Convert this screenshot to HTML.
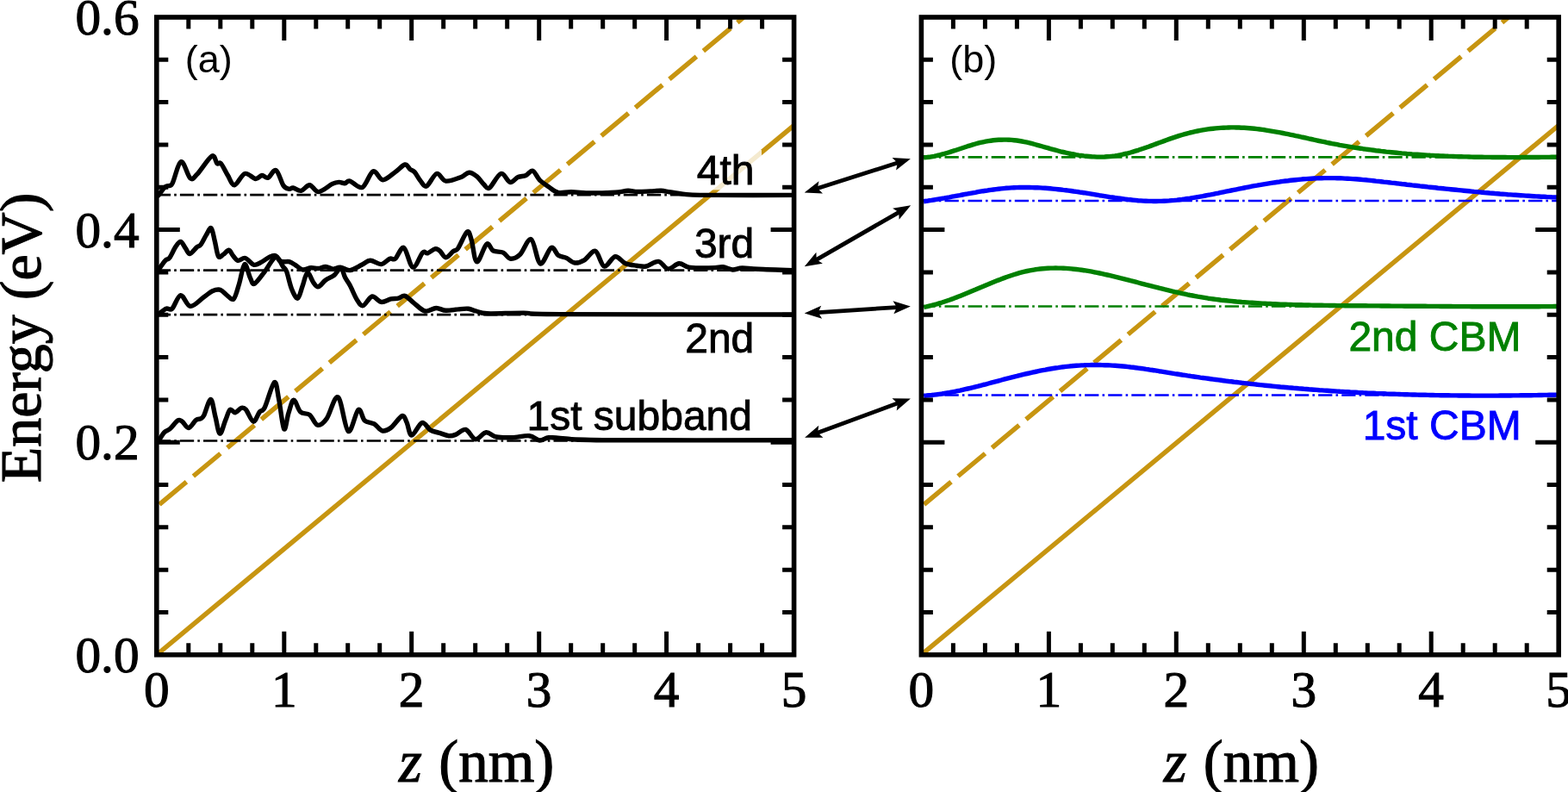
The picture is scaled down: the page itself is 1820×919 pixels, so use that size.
<!DOCTYPE html><html><head><meta charset="utf-8"><title>Energy vs z</title><style>html,body{margin:0;padding:0;background:#fff;}svg{display:block;}.serif{font-family:"Liberation Serif","Times New Roman",serif;stroke:#000;stroke-width:1.1px;}.sans{font-family:"Liberation Sans",Arial,sans-serif;stroke:#000;stroke-width:0.9px;}</style></head><body>
<svg width="1820" height="919" viewBox="0 0 1820 919">
<rect width="100%" height="100%" fill="#fff"/>
<defs>
<clipPath id="ca"><rect x="181.8" y="20" width="739.8" height="739.8"/></clipPath>
<clipPath id="cb"><rect x="1069.4" y="20" width="739.8" height="739.8"/></clipPath>
</defs>
<g clip-path="url(#ca)">
<line x1="181.8" y1="759.8" x2="931.6" y2="137.1" stroke="#C79511" stroke-width="5.5"/>
<line x1="181.8" y1="588" x2="887.2" y2="0" stroke="#C79511" stroke-width="5.5" stroke-dasharray="41 10.38" stroke-dashoffset="47.3"/>
</g>
<rect x="800" y="174" width="84" height="46.4" fill="#fff" fill-opacity="0.8"/>
<line x1="181.8" y1="226.2" x2="921.6" y2="226.2" stroke="#000" stroke-width="2.7" stroke-dasharray="16.3 4.1 2.6 4.1"/>
<line x1="181.8" y1="313.7" x2="921.6" y2="313.7" stroke="#000" stroke-width="2.7" stroke-dasharray="16.3 4.1 2.6 4.1"/>
<line x1="181.8" y1="365.2" x2="921.6" y2="365.2" stroke="#000" stroke-width="2.7" stroke-dasharray="16.3 4.1 2.6 4.1"/>
<line x1="181.8" y1="511.5" x2="921.6" y2="511.5" stroke="#000" stroke-width="2.7" stroke-dasharray="16.3 4.1 2.6 4.1"/>
<g fill="none" stroke="#000" stroke-width="5.4" stroke-linejoin="round" stroke-linecap="round" clip-path="url(#ca)">
<path d="M184,226.6C185.3,224.9 189.7,218.6 191.9,216.7C194.1,214.8 195.7,216.2 197.1,215.4C198.5,214.6 198.2,216.7 200.4,212.1C202.6,207.5 206.9,188.6 210.3,187.7C213.7,186.8 217.8,204.4 220.9,206.8C224,209.2 224.6,206.5 228.8,202.2C233,197.9 242.1,183.2 245.9,181.1C249.8,179 250.1,188.3 251.9,189.7C253.7,191.1 254.4,187.4 256.5,189.7C258.6,192 261.8,199.3 264.4,203.5C267,207.7 269,215 272.3,214.7C275.6,214.4 280.1,202.7 284.2,201.5C288.3,200.3 293.4,207.2 296.7,207.5C300,207.8 301.6,203.7 304,203.5C306.4,203.3 308.5,207.2 311.2,206.2C313.9,205.2 317.4,196.1 320.4,197.6C323.4,199.1 326.5,211.8 329,215.4C331.5,219 333.7,218.9 335.6,219.3C337.5,219.7 337.9,217.7 340.2,218C342.5,218.3 346.3,221.9 349.5,221.3C352.7,220.8 356,214.5 359.4,214.7C362.8,214.9 365.5,222.8 369.9,222.6C374.3,222.4 381.8,215.3 385.7,213.4C389.6,211.5 391.2,211.5 393.6,211.4C396,211.3 398.1,212.9 400.2,212.7C402.3,212.5 402.8,209.3 406.2,210.1C409.6,210.9 416,219.3 420.5,217.4C425,215.5 429.1,200.3 433.1,198.9C437.1,197.5 440,208.7 444.3,208.8C448.6,208.9 454.5,202.6 458.8,199.6C463.1,196.6 467.1,191.6 470,191C472.9,190.4 474,194.9 475.9,196.3C477.8,197.7 479.2,197.4 481.2,199.6C483.2,201.8 485.5,206.8 487.8,209.5C490.1,212.2 491.9,217.3 495.1,216C498.3,214.7 503.2,202.5 506.9,201.5C510.6,200.5 512.8,209.4 517.5,210.1C522.2,210.8 530.8,207.2 535.3,205.5C539.8,203.8 541.4,200.3 544.5,200.2C547.6,200.1 550.8,202.5 553.7,204.8C556.6,207.1 559.3,211.9 561.7,214.1C564.1,216.3 564.9,220.1 568.2,218C571.5,215.9 577.4,202.6 581.4,201.5C585.4,200.4 588.7,210.7 592,211.4C595.3,212.1 598.1,206.8 601.2,205.5C604.3,204.2 607.6,204.7 610.5,203.5C613.4,202.3 615.8,197.3 618.4,198.2C621,199.1 623.2,205.7 626.3,208.8C629.4,211.9 633.2,214.3 636.8,216.7C640.3,219.1 643.2,222.4 647.6,223.4C652,224.4 656.8,222.7 663,222.8C669.2,222.9 678,223.9 685,224C692,224.1 699.5,223.8 705,223.6C710.5,223.4 714,223.4 718,223C722,222.6 725.3,221.4 729,221.3C732.7,221.2 735.7,222.4 740,222.5C744.3,222.6 750.4,222.1 755,221.9C759.6,221.7 763.5,221.1 767.4,221.3C771.3,221.5 772.9,222.2 778.4,223C783.9,223.8 791.7,225.3 800.3,225.9C808.9,226.5 809.8,226.3 830,226.4C850.2,226.5 906.3,226.4 921.6,226.4"/>
<path d="M184.2,312.9C184.9,311.8 187.1,308.5 188.5,306.6C189.9,304.7 191.3,302.9 192.7,301.6C194.1,300.3 195.1,301.4 197,298.8C198.9,296.2 201.9,289.2 204,286.1C206.1,283 207.8,280 209.7,280.4C211.6,280.8 213.6,285.8 215.4,288.2C217.2,290.6 218.2,294.7 220.3,294.5C222.4,294.3 226,288.9 228.1,287.1C230.2,285.3 231.1,286.3 233,283.9C234.9,281.5 237.4,275.8 239.4,272.6C241.4,269.4 243.4,263.6 245.1,264.8C246.8,266 247.9,274.3 249.3,279.7C250.7,285.1 251.8,294.8 253.5,297.4C255.2,300 257.2,296.5 259.2,295.3C261.2,294.1 263.7,290.1 265.6,290.3C267.5,290.5 268.7,294.7 270.5,296.7C272.3,298.7 273.8,301.8 276.2,302.3C278.6,302.8 281.6,298.7 284.7,299.5C287.8,300.3 291.6,306.5 294.6,307.3C297.7,308.1 299.9,305.9 303,304.4C306.1,302.9 310.1,299.4 312.9,298.1C315.7,296.8 318.1,296 320,296.7C321.9,297.4 322.7,301.1 324.3,302.3C325.9,303.5 328,303.5 329.9,303.7C331.8,303.9 333.5,303.1 335.6,303.7C337.7,304.3 340,305.8 342.6,307.3C345.2,308.8 348,312.3 351.1,312.9C354.2,313.5 357.9,311 361,310.8C364.1,310.6 366.7,311.7 369.5,311.5C372.3,311.3 375.2,309.3 378,309.4C380.8,309.5 383.7,312.1 386.5,312.2C389.3,312.3 391.7,309.9 395,310.1C398.3,310.3 402.2,314.1 406.3,313.6C410.4,313.1 416,309.2 419.9,307.3C423.8,305.4 426,302.4 429.8,302.3C433.6,302.2 438.7,307 442.5,306.6C446.3,306.2 449.7,301.3 452.4,300.2C455.1,299.1 456.1,302.3 458.8,300.2C461.5,298.1 465.3,285.9 468.7,287.5C472.1,289.1 475.6,309.2 479.3,310.1C483,311 487.8,295.8 490.6,293.1C493.4,290.4 493.9,294.5 496.3,293.8C498.7,293.1 502.5,289.4 504.8,288.9C507.1,288.4 508.3,289.4 510.4,291C512.5,292.6 514.9,298.7 517.5,298.8C520.1,298.9 523.6,293.5 526,291.7C528.4,289.9 528.9,292 531.6,288.2C534.3,284.4 539.6,270.8 542.2,269.1C544.8,267.5 545.3,272.5 547.2,278.3C549.1,284.1 550.5,302.9 553.5,303.7C556.5,304.5 561.7,285.3 564.9,283.2C568.1,281.1 569.4,289.4 572.6,291C575.8,292.6 580.7,291.6 584,293.1C587.3,294.6 589.1,299.8 592.4,300.2C595.7,300.6 599.7,299.1 603.7,295.3C607.7,291.5 612.6,275.8 616.5,277.6C620.4,279.4 623.2,304.2 627.1,305.9C631,307.5 636.3,289.1 639.8,287.5C643.3,285.9 645,294.2 648,296.2C651,298.2 654.3,297.9 657.5,299.4C660.7,300.9 663.6,304.6 667.1,305C670.6,305.4 674.2,304.1 678.2,301.8C682.2,299.5 687.1,290.2 691,291.4C694.9,292.6 697.4,307.9 701.3,309C705.1,310.1 710,298.3 714.1,297.8C718.2,297.3 721.9,304.1 726,305.8C730.1,307.5 734.8,307.7 738.8,308.2C742.8,308.7 745.6,309.8 749.9,309C754.1,308.2 760,302.9 764.3,303.4C768.5,303.9 771.4,311.7 775.4,312.1C779.4,312.5 784.2,306.1 788.2,305.8C792.2,305.5 794.8,309.3 799.3,310.2C803.8,311.1 809.9,310.9 815,311C820.1,311.1 826,310.8 830,310.6C834,310.4 835.8,309.4 839.2,309.8C842.6,310.2 846.6,312.8 850.3,313C854,313.2 856.5,311.1 861.5,311C866.5,310.9 870,311.9 880,312.3C890,312.8 914.7,313.5 921.6,313.7"/>
<path d="M184.2,364.6C185.6,363.5 190.1,359.3 192.7,358.2C195.3,357.1 197,360.8 199.8,358.2C202.6,355.6 206.2,343.1 209.7,342.6C213.2,342.1 216.5,355 221,355.4C225.5,355.8 232.3,347.8 236.6,344.8C240.8,341.9 243.3,339.1 246.5,337.7C249.7,336.3 252.9,335.5 255.7,336.3C258.5,337.1 260.8,340.8 263.4,342.6C266,344.4 268.8,349.1 271.2,346.9C273.6,344.7 275.5,335.9 277.6,329.2C279.7,322.5 281.8,307.8 283.9,306.6C286,305.4 288.4,318.3 290.3,322.1C292.2,325.9 292.5,330.4 295.3,329.2C298.1,328 303.2,320.3 307.3,315.1C311.4,309.9 316.5,299.1 320,298.1C323.5,297.2 326.4,306.6 328.5,309.4C330.6,312.2 331.1,310.9 332.7,315.1C334.3,319.4 336.3,329.7 338.4,334.9C340.5,340.1 343.4,346.7 345.5,346.2C347.6,345.7 349.2,336.9 351.1,332C353,327.1 354.7,317.2 356.8,316.5C358.9,315.8 361.7,325.1 363.8,327.8C365.9,330.5 367.1,333.2 369.5,332.7C371.9,332.2 374.9,327.2 378,325C381.1,322.8 384.9,321.7 387.9,319.3C390.8,316.9 393.6,310.3 395.7,310.8C397.8,311.3 398.8,318.7 400.6,322.1C402.4,325.5 404,327.1 406.3,331.3C408.6,335.6 411.7,343.7 414.2,347.6C416.7,351.5 418.4,355.3 421.3,354.7C424.2,354.1 428.4,344.7 431.9,344C435.4,343.3 438.9,349.9 442.5,350.4C446.1,350.9 450.5,347.6 453.8,346.9C457.1,346.2 459.6,346.8 462.3,346.2C465,345.6 467,342.4 470.1,343.3C473.2,344.2 476.8,348.9 480.7,351.8C484.6,354.8 489.1,360.1 493.4,361C497.6,361.9 502.2,357.6 506.2,357.5C510.2,357.4 513.3,360.1 517.5,360.3C521.7,360.5 527.2,359.2 531.6,358.9C536,358.5 540.1,357.8 543.6,358.2C547.1,358.6 549.1,360.1 552.8,361C556.5,361.9 556.4,363.4 565.6,363.8C574.8,364.2 593.9,363 608,363.1C622.1,363.2 597.7,364.3 650,364.6C702.3,364.9 876.3,364.9 921.6,365"/>
<path d="M184.6,511C185.6,509.5 188.4,504 190.5,501.8C192.6,499.6 194.4,500.1 197.1,497.8C199.8,495.5 204,489.3 206.4,487.9C208.8,486.5 209.5,487.8 211.6,489.2C213.7,490.6 216.2,496.8 218.9,496.5C221.6,496.2 225.2,489.1 227.5,487.3C229.8,485.5 231.2,486.8 232.7,485.9C234.2,485 234.7,485.7 236.7,482C238.7,478.3 242.4,463.3 244.6,463.5C246.8,463.7 248.1,476.7 249.9,483.3C251.7,489.9 253.2,502.4 255.2,503.1C257.2,503.8 259.8,491.9 261.8,487.3C263.8,482.7 265.1,476.8 267,475.4C268.9,474 270.8,479 273,478.7C275.2,478.4 278.1,473.9 280.2,473.4C282.3,472.8 283.2,472.8 285.5,475.4C287.8,478 291.5,488.8 294.1,489.2C296.7,489.6 299.1,480.8 301.3,478C303.5,475.2 304.4,478.4 307.3,472.7C310.2,467 315.8,445.2 318.5,443.7C321.2,442.2 321.8,454.5 323.7,463.5C325.6,472.5 327.8,495.2 329.7,497.8C331.6,500.4 333,484.9 334.9,479.3C336.8,473.7 338.6,464.4 340.9,464.2C343.2,464 345.7,475.1 348.8,478C351.9,480.9 356.1,478.8 359.4,481.3C362.7,483.8 365.3,492.4 368.6,493.2C371.9,494 375.2,491.3 379.1,485.9C383.1,480.5 388.1,458.5 392.3,460.9C396.5,463.3 400.3,498 404.2,500.4C408.1,502.8 412.7,477.5 415.9,475.4C419.1,473.3 420.1,485.1 423.2,487.9C426.3,490.6 431,489.9 434.4,491.9C437.8,493.9 440.4,499 443.6,499.8C446.8,500.6 449.6,499.4 453.5,496.5C457.4,493.6 463.6,483.7 466.7,482.6C469.8,481.5 470.1,486.1 472,489.9C473.9,493.6 474.9,505 477.9,505.1C480.9,505.2 486.2,491.6 489.8,490.6C493.4,489.6 496.3,497.1 499.7,499.1C503.1,501.1 506.7,501.3 510.2,502.4C513.7,503.5 517.7,505.4 520.8,505.7C523.9,506 525.4,505.6 528.7,504.4C532,503.2 536.8,497.6 540.6,498.5C544.5,499.4 547.8,509.1 551.8,509.7C555.8,510.2 560.2,502.2 564.3,501.8C568.4,501.4 571.2,506 576.2,507C581.2,508 588.2,507.9 594.6,507.7C601,507.5 609.1,505.1 614.4,505.7C619.7,506.2 622.6,510.7 626.3,511C630,511.3 632.8,508.1 636.8,507.7C640.8,507.3 639.5,507.9 650,508.4C660.5,508.9 654.7,510.3 700,510.7C745.3,511.1 884.7,510.7 921.6,510.7"/>
</g>
<g clip-path="url(#cb)">
<line x1="1069.4" y1="759.8" x2="1819.2" y2="137.1" stroke="#C79511" stroke-width="5.5"/>
<line x1="1069.4" y1="588" x2="1774.8" y2="0" stroke="#C79511" stroke-width="5.5" stroke-dasharray="41 10.38" stroke-dashoffset="47.3"/>
</g>
<line x1="1069.4" y1="182.4" x2="1809.2" y2="182.4" stroke="#008000" stroke-width="2.7" stroke-dasharray="16.3 4.1 2.6 4.1"/>
<line x1="1069.4" y1="233" x2="1809.2" y2="233" stroke="#0000FF" stroke-width="2.7" stroke-dasharray="16.3 4.1 2.6 4.1"/>
<line x1="1069.4" y1="355.5" x2="1809.2" y2="355.5" stroke="#008000" stroke-width="2.7" stroke-dasharray="16.3 4.1 2.6 4.1"/>
<line x1="1069.4" y1="458.5" x2="1809.2" y2="458.5" stroke="#0000FF" stroke-width="2.7" stroke-dasharray="16.3 4.1 2.6 4.1"/>
<g fill="none" stroke-width="5.4" stroke-linejoin="round" clip-path="url(#cb)">
<path stroke="#008000" d="M1072.1,182.8L1075.1,182.6L1078.1,182.3L1081.1,181.8L1084.1,181.3L1087.1,180.7L1090.1,180L1093.1,179.2L1096.1,178.4L1099.1,177.5L1102.1,176.6L1105.1,175.6L1108.1,174.7L1111.1,173.7L1114.1,172.7L1117.1,171.7L1120.1,170.7L1123.1,169.7L1126.1,168.8L1129.1,167.9L1132.1,167L1135.1,166.2L1138.1,165.4L1141.1,164.8L1144.1,164.2L1147.1,163.6L1150.1,163.2L1153.1,162.8L1156.1,162.5L1159.1,162.3L1162.1,162.2L1165.1,162.1L1168.1,162.1L1171.1,162.2L1174.1,162.4L1177.1,162.7L1180.1,163L1183.1,163.5L1186.1,164L1189.1,164.6L1192.1,165.2L1195.1,165.9L1198.1,166.7L1201.1,167.5L1204.1,168.3L1207.1,169.2L1210.1,170L1213.1,170.9L1216.1,171.7L1219.1,172.6L1222.1,173.4L1225.1,174.2L1228.1,175L1231.1,175.8L1234.1,176.5L1237.1,177.2L1240.1,177.8L1243.1,178.5L1246.1,179L1249.1,179.6L1252.1,180.1L1255.1,180.5L1258.1,180.9L1261.1,181.2L1264.1,181.5L1267.1,181.8L1270.1,181.9L1273.1,182.1L1276.1,182.1L1279.1,182.1L1282.1,182L1285.1,181.8L1288.1,181.6L1291.1,181.3L1294.1,180.9L1297.1,180.4L1300.1,179.8L1303.1,179.2L1306.1,178.5L1309.1,177.8L1312.1,177L1315.1,176.1L1318.1,175.2L1321.1,174.3L1324.1,173.3L1327.1,172.3L1330.1,171.2L1333.1,170.2L1336.1,169.1L1339.1,168L1342.1,166.9L1345.1,165.8L1348.1,164.7L1351.1,163.6L1354.1,162.5L1357.1,161.4L1360.1,160.4L1363.1,159.4L1366.1,158.4L1369.1,157.4L1372.1,156.5L1375.1,155.6L1378.1,154.8L1381.1,154L1384.1,153.3L1387.1,152.6L1390.1,152L1393.1,151.4L1396.1,150.9L1399.1,150.4L1402.1,149.9L1405.1,149.5L1408.1,149.2L1411.1,148.9L1414.1,148.6L1417.1,148.4L1420.1,148.2L1423.1,148.1L1426.1,148L1429.1,147.9L1432.1,147.9L1435.1,148L1438.1,148L1441.1,148.2L1444.1,148.3L1447.1,148.5L1450.1,148.7L1453.1,149L1456.1,149.3L1459.1,149.6L1462.1,150L1465.1,150.4L1468.1,150.8L1471.1,151.3L1474.1,151.8L1477.1,152.3L1480.1,152.8L1483.1,153.3L1486.1,153.9L1489.1,154.5L1492.1,155.1L1495.1,155.7L1498.1,156.3L1501.1,156.9L1504.1,157.6L1507.1,158.2L1510.1,158.9L1513.1,159.5L1516.1,160.2L1519.1,160.9L1522.1,161.5L1525.1,162.2L1528.1,162.8L1531.1,163.5L1534.1,164.1L1537.1,164.7L1540.1,165.4L1543.1,166L1546.1,166.6L1549.1,167.1L1552.1,167.7L1555.1,168.3L1558.1,168.8L1561.1,169.3L1564.1,169.8L1567.1,170.3L1570.1,170.8L1573.1,171.3L1576.1,171.8L1579.1,172.2L1582.1,172.7L1585.1,173.1L1588.1,173.5L1591.1,173.9L1594.1,174.3L1597.1,174.7L1600.1,175L1603.1,175.4L1606.1,175.7L1609.1,176.1L1612.1,176.4L1615.1,176.7L1618.1,177L1621.1,177.3L1624.1,177.6L1627.1,177.9L1630.1,178.1L1633.1,178.4L1636.1,178.6L1639.1,178.9L1642.1,179.1L1645.1,179.3L1648.1,179.5L1651.1,179.7L1654.1,179.9L1657.1,180.1L1660.1,180.3L1663.1,180.4L1666.1,180.6L1669.1,180.7L1672.1,180.9L1675.1,181L1678.1,181.1L1681.1,181.3L1684.1,181.4L1687.1,181.5L1690.1,181.6L1693.1,181.7L1696.1,181.8L1699.1,181.9L1702.1,181.9L1705.1,182L1708.1,182.1L1711.1,182.2L1714.1,182.2L1717.1,182.3L1720.1,182.3L1723.1,182.4L1726.1,182.4L1729.1,182.4L1732.1,182.5L1735.1,182.5L1738.1,182.5L1741.1,182.5L1744.1,182.5L1747.1,182.5L1750.1,182.6L1753.1,182.6L1756.1,182.6L1759.1,182.6L1762.1,182.6L1765.1,182.5L1768.1,182.5L1771.1,182.5L1774.1,182.5L1777.1,182.5L1780.1,182.5L1783.1,182.5L1786.1,182.5L1789.1,182.4L1792.1,182.4L1795.1,182.4L1798.1,182.4L1801.1,182.3L1804.1,182.3L1807.1,182.3L1810,182.3"/>
<path stroke="#0000FF" d="M1072.1,233.7L1075.1,233.3L1078.1,232.8L1081.1,232.4L1084.1,231.9L1087.1,231.4L1090.1,230.9L1093.1,230.4L1096.1,229.9L1099.1,229.3L1102.1,228.8L1105.1,228.2L1108.1,227.7L1111.1,227.1L1114.1,226.6L1117.1,226L1120.1,225.4L1123.1,224.9L1126.1,224.3L1129.1,223.8L1132.1,223.3L1135.1,222.7L1138.1,222.2L1141.1,221.7L1144.1,221.3L1147.1,220.8L1150.1,220.4L1153.1,220L1156.1,219.6L1159.1,219.2L1162.1,218.9L1165.1,218.6L1168.1,218.3L1171.1,218.1L1174.1,217.9L1177.1,217.7L1180.1,217.6L1183.1,217.5L1186.1,217.5L1189.1,217.4L1192.1,217.5L1195.1,217.5L1198.1,217.6L1201.1,217.7L1204.1,217.8L1207.1,217.9L1210.1,218.1L1213.1,218.3L1216.1,218.5L1219.1,218.8L1222.1,219.1L1225.1,219.4L1228.1,219.7L1231.1,220L1234.1,220.4L1237.1,220.7L1240.1,221.1L1243.1,221.5L1246.1,222L1249.1,222.4L1252.1,222.8L1255.1,223.3L1258.1,223.7L1261.1,224.2L1264.1,224.7L1267.1,225.2L1270.1,225.7L1273.1,226.2L1276.1,226.7L1279.1,227.1L1282.1,227.6L1285.1,228.1L1288.1,228.6L1291.1,229L1294.1,229.5L1297.1,229.9L1300.1,230.3L1303.1,230.7L1306.1,231.1L1309.1,231.5L1312.1,231.8L1315.1,232.1L1318.1,232.4L1321.1,232.7L1324.1,232.9L1327.1,233.1L1330.1,233.2L1333.1,233.4L1336.1,233.4L1339.1,233.5L1342.1,233.5L1345.1,233.4L1348.1,233.4L1351.1,233.2L1354.1,233.1L1357.1,232.9L1360.1,232.6L1363.1,232.4L1366.1,232.1L1369.1,231.7L1372.1,231.4L1375.1,231L1378.1,230.5L1381.1,230.1L1384.1,229.6L1387.1,229.1L1390.1,228.6L1393.1,228.1L1396.1,227.6L1399.1,227L1402.1,226.4L1405.1,225.9L1408.1,225.3L1411.1,224.7L1414.1,224.1L1417.1,223.4L1420.1,222.8L1423.1,222.2L1426.1,221.6L1429.1,221L1432.1,220.4L1435.1,219.8L1438.1,219.2L1441.1,218.6L1444.1,218L1447.1,217.4L1450.1,216.8L1453.1,216.2L1456.1,215.7L1459.1,215.2L1462.1,214.6L1465.1,214.1L1468.1,213.6L1471.1,213.1L1474.1,212.6L1477.1,212.1L1480.1,211.7L1483.1,211.3L1486.1,210.8L1489.1,210.4L1492.1,210L1495.1,209.7L1498.1,209.3L1501.1,209L1504.1,208.7L1507.1,208.4L1510.1,208.1L1513.1,207.8L1516.1,207.6L1519.1,207.4L1522.1,207.2L1525.1,207L1528.1,206.9L1531.1,206.8L1534.1,206.7L1537.1,206.6L1540.1,206.6L1543.1,206.6L1546.1,206.6L1549.1,206.6L1552.1,206.7L1555.1,206.8L1558.1,206.9L1561.1,207.1L1564.1,207.2L1567.1,207.4L1570.1,207.6L1573.1,207.8L1576.1,208L1579.1,208.3L1582.1,208.6L1585.1,208.8L1588.1,209.1L1591.1,209.4L1594.1,209.7L1597.1,210.1L1600.1,210.4L1603.1,210.7L1606.1,211.1L1609.1,211.4L1612.1,211.7L1615.1,212.1L1618.1,212.4L1621.1,212.8L1624.1,213.1L1627.1,213.5L1630.1,213.8L1633.1,214.2L1636.1,214.5L1639.1,214.9L1642.1,215.2L1645.1,215.5L1648.1,215.9L1651.1,216.2L1654.1,216.5L1657.1,216.9L1660.1,217.2L1663.1,217.5L1666.1,217.8L1669.1,218.2L1672.1,218.5L1675.1,218.8L1678.1,219.1L1681.1,219.4L1684.1,219.7L1687.1,220L1690.1,220.3L1693.1,220.6L1696.1,220.9L1699.1,221.2L1702.1,221.5L1705.1,221.8L1708.1,222.1L1711.1,222.4L1714.1,222.6L1717.1,222.9L1720.1,223.2L1723.1,223.5L1726.1,223.7L1729.1,224L1732.1,224.2L1735.1,224.5L1738.1,224.7L1741.1,225L1744.1,225.2L1747.1,225.4L1750.1,225.7L1753.1,225.9L1756.1,226.1L1759.1,226.3L1762.1,226.5L1765.1,226.7L1768.1,226.9L1771.1,227.1L1774.1,227.3L1777.1,227.5L1780.1,227.7L1783.1,227.9L1786.1,228L1789.1,228.2L1792.1,228.3L1795.1,228.5L1798.1,228.6L1801.1,228.8L1804.1,228.9L1807.1,229L1810,229.1"/>
<path stroke="#008000" d="M1072.3,356.3L1075.3,355.8L1078.3,355.1L1081.3,354.4L1084.3,353.6L1087.3,352.8L1090.3,351.9L1093.3,351L1096.3,350L1099.3,349L1102.3,348L1105.3,346.9L1108.3,345.7L1111.3,344.6L1114.3,343.4L1117.3,342.2L1120.3,341L1123.3,339.8L1126.3,338.5L1129.3,337.2L1132.3,336L1135.3,334.7L1138.3,333.4L1141.3,332.2L1144.3,330.9L1147.3,329.7L1150.3,328.4L1153.3,327.2L1156.3,326L1159.3,324.9L1162.3,323.7L1165.3,322.6L1168.3,321.5L1171.3,320.5L1174.3,319.5L1177.3,318.5L1180.3,317.6L1183.3,316.7L1186.3,315.9L1189.3,315.2L1192.3,314.5L1195.3,313.9L1198.3,313.3L1201.3,312.8L1204.3,312.4L1207.3,312L1210.3,311.7L1213.3,311.5L1216.3,311.3L1219.3,311.1L1222.3,311.1L1225.3,311L1228.3,311.1L1231.3,311.1L1234.3,311.2L1237.3,311.4L1240.3,311.6L1243.3,311.9L1246.3,312.2L1249.3,312.5L1252.3,312.9L1255.3,313.3L1258.3,313.7L1261.3,314.2L1264.3,314.7L1267.3,315.2L1270.3,315.8L1273.3,316.4L1276.3,317L1279.3,317.6L1282.3,318.3L1285.3,319L1288.3,319.7L1291.3,320.4L1294.3,321.1L1297.3,321.8L1300.3,322.6L1303.3,323.3L1306.3,324.1L1309.3,324.9L1312.3,325.7L1315.3,326.4L1318.3,327.2L1321.3,328L1324.3,328.8L1327.3,329.6L1330.3,330.4L1333.3,331.1L1336.3,331.9L1339.3,332.7L1342.3,333.4L1345.3,334.2L1348.3,334.9L1351.3,335.7L1354.3,336.4L1357.3,337.1L1360.3,337.9L1363.3,338.6L1366.3,339.2L1369.3,339.9L1372.3,340.6L1375.3,341.2L1378.3,341.9L1381.3,342.5L1384.3,343L1387.3,343.6L1390.3,344.2L1393.3,344.7L1396.3,345.2L1399.3,345.7L1402.3,346.2L1405.3,346.6L1408.3,347L1411.3,347.4L1414.3,347.8L1417.3,348.2L1420.3,348.5L1423.3,348.8L1426.3,349.1L1429.3,349.4L1432.3,349.7L1435.3,350L1438.3,350.2L1441.3,350.5L1444.3,350.7L1447.3,350.9L1450.3,351.1L1453.3,351.3L1456.3,351.5L1459.3,351.7L1462.3,351.9L1465.3,352.1L1468.3,352.2L1471.3,352.4L1474.3,352.5L1477.3,352.7L1480.3,352.8L1483.3,352.9L1486.3,353.1L1489.3,353.2L1492.3,353.3L1495.3,353.4L1498.3,353.5L1501.3,353.6L1504.3,353.7L1507.3,353.8L1510.3,353.8L1513.3,353.9L1516.3,354L1519.3,354L1522.3,354.1L1525.3,354.2L1528.3,354.2L1531.3,354.3L1534.3,354.3L1537.3,354.4L1540.3,354.4L1543.3,354.5L1546.3,354.5L1549.3,354.5L1552.3,354.6L1555.3,354.6L1558.3,354.6L1561.3,354.7L1564.3,354.7L1567.3,354.7L1570.3,354.7L1573.3,354.8L1576.3,354.8L1579.3,354.8L1582.3,354.8L1585.3,354.8L1588.3,354.9L1591.3,354.9L1594.3,354.9L1597.3,354.9L1600.3,354.9L1603.3,355L1606.3,355L1609.3,355L1612.3,355L1615.3,355.1L1618.3,355.1L1621.3,355.1L1624.3,355.1L1627.3,355.1L1630.3,355.2L1633.3,355.2L1636.3,355.2L1639.3,355.2L1642.3,355.3L1645.3,355.3L1648.3,355.3L1651.3,355.3L1654.3,355.3L1657.3,355.4L1660.3,355.4L1663.3,355.4L1666.3,355.4L1669.3,355.4L1672.3,355.5L1675.3,355.5L1678.3,355.5L1681.3,355.5L1684.3,355.5L1687.3,355.6L1690.3,355.6L1693.3,355.6L1696.3,355.6L1699.3,355.6L1702.3,355.6L1705.3,355.6L1708.3,355.7L1711.3,355.7L1714.3,355.7L1717.3,355.7L1720.3,355.7L1723.3,355.7L1726.3,355.7L1729.3,355.7L1732.3,355.7L1735.3,355.7L1738.3,355.7L1741.3,355.7L1744.3,355.7L1747.3,355.7L1750.3,355.7L1753.3,355.7L1756.3,355.7L1759.3,355.7L1762.3,355.7L1765.3,355.7L1768.3,355.7L1771.3,355.7L1774.3,355.7L1777.3,355.7L1780.3,355.7L1783.3,355.7L1786.3,355.7L1789.3,355.6L1792.3,355.6L1795.3,355.6L1798.3,355.6L1801.3,355.6L1804.3,355.5L1807.3,355.5L1810,355.5"/>
<path stroke="#0000FF" d="M1072.3,459.2L1075.3,459L1078.3,458.7L1081.3,458.5L1084.3,458.1L1087.3,457.8L1090.3,457.4L1093.3,457L1096.3,456.5L1099.3,456L1102.3,455.5L1105.3,454.9L1108.3,454.3L1111.3,453.7L1114.3,453.1L1117.3,452.4L1120.3,451.7L1123.3,451L1126.3,450.3L1129.3,449.6L1132.3,448.8L1135.3,448.1L1138.3,447.3L1141.3,446.5L1144.3,445.8L1147.3,445L1150.3,444.2L1153.3,443.4L1156.3,442.6L1159.3,441.8L1162.3,441L1165.3,440.2L1168.3,439.4L1171.3,438.7L1174.3,437.9L1177.3,437.1L1180.3,436.4L1183.3,435.6L1186.3,434.9L1189.3,434.2L1192.3,433.5L1195.3,432.8L1198.3,432.1L1201.3,431.5L1204.3,430.8L1207.3,430.2L1210.3,429.6L1213.3,429.1L1216.3,428.5L1219.3,428L1222.3,427.5L1225.3,427L1228.3,426.6L1231.3,426.1L1234.3,425.7L1237.3,425.4L1240.3,425.1L1243.3,424.8L1246.3,424.5L1249.3,424.3L1252.3,424.1L1255.3,423.9L1258.3,423.8L1261.3,423.6L1264.3,423.6L1267.3,423.5L1270.3,423.5L1273.3,423.5L1276.3,423.5L1279.3,423.6L1282.3,423.7L1285.3,423.8L1288.3,423.9L1291.3,424.1L1294.3,424.3L1297.3,424.5L1300.3,424.7L1303.3,425L1306.3,425.3L1309.3,425.6L1312.3,426L1315.3,426.3L1318.3,426.7L1321.3,427.1L1324.3,427.5L1327.3,427.9L1330.3,428.4L1333.3,428.8L1336.3,429.3L1339.3,429.7L1342.3,430.2L1345.3,430.7L1348.3,431.1L1351.3,431.6L1354.3,432.1L1357.3,432.6L1360.3,433.1L1363.3,433.6L1366.3,434L1369.3,434.5L1372.3,435L1375.3,435.4L1378.3,435.9L1381.3,436.3L1384.3,436.8L1387.3,437.2L1390.3,437.6L1393.3,438.1L1396.3,438.5L1399.3,438.9L1402.3,439.3L1405.3,439.7L1408.3,440.1L1411.3,440.5L1414.3,440.9L1417.3,441.3L1420.3,441.7L1423.3,442.1L1426.3,442.5L1429.3,442.8L1432.3,443.2L1435.3,443.5L1438.3,443.9L1441.3,444.3L1444.3,444.6L1447.3,444.9L1450.3,445.3L1453.3,445.6L1456.3,445.9L1459.3,446.3L1462.3,446.6L1465.3,446.9L1468.3,447.2L1471.3,447.5L1474.3,447.8L1477.3,448.1L1480.3,448.4L1483.3,448.7L1486.3,449L1489.3,449.2L1492.3,449.5L1495.3,449.8L1498.3,450L1501.3,450.3L1504.3,450.5L1507.3,450.8L1510.3,451L1513.3,451.3L1516.3,451.5L1519.3,451.8L1522.3,452L1525.3,452.2L1528.3,452.4L1531.3,452.7L1534.3,452.9L1537.3,453.1L1540.3,453.3L1543.3,453.5L1546.3,453.7L1549.3,453.9L1552.3,454.1L1555.3,454.3L1558.3,454.4L1561.3,454.6L1564.3,454.8L1567.3,455L1570.3,455.1L1573.3,455.3L1576.3,455.5L1579.3,455.6L1582.3,455.8L1585.3,455.9L1588.3,456.1L1591.3,456.2L1594.3,456.3L1597.3,456.5L1600.3,456.6L1603.3,456.7L1606.3,456.8L1609.3,457L1612.3,457.1L1615.3,457.2L1618.3,457.3L1621.3,457.4L1624.3,457.5L1627.3,457.6L1630.3,457.7L1633.3,457.8L1636.3,457.9L1639.3,458L1642.3,458L1645.3,458.1L1648.3,458.2L1651.3,458.3L1654.3,458.3L1657.3,458.4L1660.3,458.5L1663.3,458.5L1666.3,458.6L1669.3,458.6L1672.3,458.7L1675.3,458.7L1678.3,458.8L1681.3,458.8L1684.3,458.9L1687.3,458.9L1690.3,458.9L1693.3,459L1696.3,459L1699.3,459L1702.3,459L1705.3,459L1708.3,459.1L1711.3,459.1L1714.3,459.1L1717.3,459.1L1720.3,459.1L1723.3,459.1L1726.3,459.1L1729.3,459.1L1732.3,459.1L1735.3,459.1L1738.3,459.1L1741.3,459L1744.3,459L1747.3,459L1750.3,459L1753.3,459L1756.3,458.9L1759.3,458.9L1762.3,458.9L1765.3,458.8L1768.3,458.8L1771.3,458.8L1774.3,458.7L1777.3,458.7L1780.3,458.6L1783.3,458.6L1786.3,458.5L1789.3,458.5L1792.3,458.4L1795.3,458.4L1798.3,458.3L1801.3,458.2L1804.3,458.2L1807.3,458.1L1810,458"/>
</g>
<path d="M218.8,759.8V746.3M218.8,20V33.5M255.8,759.8V746.3M255.8,20V33.5M292.8,759.8V746.3M292.8,20V33.5M329.8,759.8V732.8M329.8,20V47M366.8,759.8V746.3M366.8,20V33.5M403.7,759.8V746.3M403.7,20V33.5M440.7,759.8V746.3M440.7,20V33.5M477.7,759.8V732.8M477.7,20V47M514.7,759.8V746.3M514.7,20V33.5M551.7,759.8V746.3M551.7,20V33.5M588.7,759.8V746.3M588.7,20V33.5M625.7,759.8V732.8M625.7,20V47M662.7,759.8V746.3M662.7,20V33.5M699.7,759.8V746.3M699.7,20V33.5M736.7,759.8V746.3M736.7,20V33.5M773.6,759.8V732.8M773.6,20V47M810.6,759.8V746.3M810.6,20V33.5M847.6,759.8V746.3M847.6,20V33.5M884.6,759.8V746.3M884.6,20V33.5M181.8,710.5H195.3M921.6,710.5H908.1M181.8,661.2H195.3M921.6,661.2H908.1M181.8,611.8H195.3M921.6,611.8H908.1M181.8,562.5H195.3M921.6,562.5H908.1M181.8,513.2H208.8M921.6,513.2H894.6M181.8,463.9H195.3M921.6,463.9H908.1M181.8,414.6H195.3M921.6,414.6H908.1M181.8,365.2H195.3M921.6,365.2H908.1M181.8,315.9H195.3M921.6,315.9H908.1M181.8,266.6H208.8M921.6,266.6H894.6M181.8,217.3H195.3M921.6,217.3H908.1M181.8,168H195.3M921.6,168H908.1M181.8,118.6H195.3M921.6,118.6H908.1M181.8,69.3H195.3M921.6,69.3H908.1" stroke="#000" stroke-width="5.0" fill="none"/>
<rect x="181.8" y="20" width="739.8" height="739.8" fill="none" stroke="#000" stroke-width="5.6"/>
<path d="M1106.4,759.8V746.3M1106.4,20V33.5M1143.4,759.8V746.3M1143.4,20V33.5M1180.4,759.8V746.3M1180.4,20V33.5M1217.4,759.8V732.8M1217.4,20V47M1254.4,759.8V746.3M1254.4,20V33.5M1291.3,759.8V746.3M1291.3,20V33.5M1328.3,759.8V746.3M1328.3,20V33.5M1365.3,759.8V732.8M1365.3,20V47M1402.3,759.8V746.3M1402.3,20V33.5M1439.3,759.8V746.3M1439.3,20V33.5M1476.3,759.8V746.3M1476.3,20V33.5M1513.3,759.8V732.8M1513.3,20V47M1550.3,759.8V746.3M1550.3,20V33.5M1587.3,759.8V746.3M1587.3,20V33.5M1624.2,759.8V746.3M1624.2,20V33.5M1661.2,759.8V732.8M1661.2,20V47M1698.2,759.8V746.3M1698.2,20V33.5M1735.2,759.8V746.3M1735.2,20V33.5M1772.2,759.8V746.3M1772.2,20V33.5M1069.4,710.5H1082.9M1809.2,710.5H1795.7M1069.4,661.2H1082.9M1809.2,661.2H1795.7M1069.4,611.8H1082.9M1809.2,611.8H1795.7M1069.4,562.5H1082.9M1809.2,562.5H1795.7M1069.4,513.2H1096.4M1809.2,513.2H1782.2M1069.4,463.9H1082.9M1809.2,463.9H1795.7M1069.4,414.6H1082.9M1809.2,414.6H1795.7M1069.4,365.2H1082.9M1809.2,365.2H1795.7M1069.4,315.9H1082.9M1809.2,315.9H1795.7M1069.4,266.6H1096.4M1809.2,266.6H1782.2M1069.4,217.3H1082.9M1809.2,217.3H1795.7M1069.4,168H1082.9M1809.2,168H1795.7M1069.4,118.6H1082.9M1809.2,118.6H1795.7M1069.4,69.3H1082.9M1809.2,69.3H1795.7" stroke="#000" stroke-width="5.0" fill="none"/>
<rect x="1069.4" y="20" width="739.8" height="739.8" fill="none" stroke="#000" stroke-width="5.6"/>
<line x1="945.1" y1="219.8" x2="1045.5" y2="187.8" stroke="#000" stroke-width="4.8"/><path d="M933.7,223.4L955,224.5L948.9,218.5L950.5,210.2ZM1056.9,184.2L1040.1,197.4L1041.7,189.1L1035.6,183.1Z" fill="#000"/>
<line x1="944.2" y1="303.3" x2="1046.8" y2="244.3" stroke="#000" stroke-width="4.8"/><path d="M933.8,309.3L954.9,305.8L947.7,301.3L947.4,292.8ZM1057.2,238.3L1043.6,254.8L1043.3,246.3L1036.1,241.8Z" fill="#000"/>
<line x1="945.7" y1="362.8" x2="1044.9" y2="356.3" stroke="#000" stroke-width="4.8"/><path d="M933.7,363.6L954.1,369.8L949.7,362.6L953.2,354.8ZM1056.9,355.5L1037.4,364.3L1040.9,356.5L1036.5,349.3Z" fill="#000"/>
<line x1="945.4" y1="503.5" x2="1045.6" y2="466.6" stroke="#000" stroke-width="4.8"/><path d="M934.1,507.7L955.5,507.8L949.1,502.2L950.3,493.7ZM1056.9,462.4L1040.7,476.4L1041.9,467.9L1035.5,462.3Z" fill="#000"/>
<g class="serif" font-size="59.3" fill="#000">
<text x="161.6" y="779.7" text-anchor="end">0.0</text>
<text x="161.6" y="533.1" text-anchor="end">0.2</text>
<text x="161.6" y="286.5" text-anchor="end">0.4</text>
<text x="161.6" y="39.9" text-anchor="end">0.6</text>
<text x="181.8" y="819.9" text-anchor="middle">0</text>
<text x="329.8" y="819.9" text-anchor="middle">1</text>
<text x="477.7" y="819.9" text-anchor="middle">2</text>
<text x="625.7" y="819.9" text-anchor="middle">3</text>
<text x="773.6" y="819.9" text-anchor="middle">4</text>
<text x="921.6" y="819.9" text-anchor="middle">5</text>
<text x="1069.4" y="819.9" text-anchor="middle">0</text>
<text x="1217.4" y="819.9" text-anchor="middle">1</text>
<text x="1365.3" y="819.9" text-anchor="middle">2</text>
<text x="1513.3" y="819.9" text-anchor="middle">3</text>
<text x="1661.2" y="819.9" text-anchor="middle">4</text>
<text x="1809.2" y="819.9" text-anchor="middle">5</text>
</g>
<text class="serif" font-size="69" x="553.2" y="906.8" text-anchor="middle"><tspan font-style="italic">z</tspan><tspan dx="2"> (nm)</tspan></text>
<text class="serif" font-size="69" x="1440.8" y="906.8" text-anchor="middle"><tspan font-style="italic">z</tspan><tspan dx="2"> (nm)</tspan></text>
<text class="serif" font-size="68" transform="translate(47,392) rotate(-90)" text-anchor="middle">Energy (eV)</text>
<g class="sans" font-size="48" text-anchor="end">
<text x="875.5" y="214.2">4th</text>
<text x="875.3" y="298.6">3rd</text>
<text x="875.3" y="409.3">2nd</text>
<text x="873" y="498.9">1st subband</text>
<text x="1765.5" y="407.2" fill="#008000" stroke="#008000">2nd CBM</text>
<text x="1765.7" y="510.3" fill="#0000FF" stroke="#0000FF">1st CBM</text>
</g>
<text class="sans" style="stroke:none" font-size="45" x="214.8" y="83.5">(a)</text>
<text class="sans" style="stroke:none" font-size="45" x="1102.3" y="83.5">(b)</text>
</svg></body></html>
